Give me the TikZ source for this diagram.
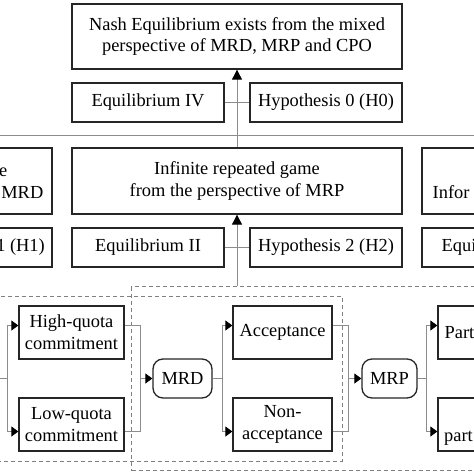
\documentclass[tikz,border=0pt]{standalone}
\usepackage{fontspec}
\setmainfont{Liberation Serif}
\usetikzlibrary{arrows.meta}
\begin{document}
\begin{tikzpicture}[x=1pt,y=-1pt,
  fnt/.style={font=\fontsize{18.4}{21.6}\selectfont},
  box/.style={draw=black!85, line width=1.3pt, rectangle, inner sep=0pt, align=center, fnt},
  rbox/.style={box, rounded corners=10pt},
  txt/.style={inner sep=0pt, fnt},
  conn/.style={draw=black!45, line width=0.9pt},
  dbox/.style={draw=black!50, line width=0.9pt, dash pattern=on 4pt off 3pt, inner sep=0pt},
  arr/.style={conn, -{Triangle[length=7pt,width=10pt,color=black]}},
  bigarr/.style={conn, -{Triangle[length=10pt,width=10pt,color=black]}},
]
\useasboundingbox (0,0) rectangle (474,474);
\clip (0,0) rectangle (474,474);
\fill[white] (0,0) rectangle (474,474);

% top level
\node[box, minimum width=330pt, minimum height=65pt] (top) at (237,36.5) {Nash Equilibrium exists from the mixed\\perspective of MRD, MRP and CPO};
\node[box, minimum width=152pt, minimum height=39pt] (eq4) at (148,102.5) {Equilibrium IV};
\node[box, minimum width=152pt, minimum height=39pt] (h0) at (326,102.5) {Hypothesis 0 (H0)};
\draw[conn] (eq4.east) -- (h0.west);

\coordinate (hl) at (0,135);
\coordinate (hr) at (474,135);
\draw[conn] (hl) -- (hr);

% middle level
\node[box, minimum width=330pt, minimum height=66pt] (mid) at (237,181) {Infinite repeated game\\from the perspective of MRP};
\node[box, minimum width=260pt, minimum height=66pt] (lmid) at (-78,181) {};
\node[box, minimum width=260pt, minimum height=66pt] (rmid) at (552,181) {};
\node[txt, anchor=base east] (lmid1) at (7.5,176.5) {e};
\node[txt, anchor=base east] (lmid2) at (43.5,198) {MRD};
\node[txt, anchor=base west] (rmid2) at (432.5,198) {Infor};
\draw[bigarr] (mid.north) -- (top.south);

\node[box, minimum width=152pt, minimum height=39pt] (eq2) at (148,247.5) {Equilibrium II};
\node[box, minimum width=152pt, minimum height=39pt] (h2) at (326,247.5) {Hypothesis 2 (H2)};
\node[box, minimum width=260pt, minimum height=39pt] (lrow) at (-78,247.5) {};
\node[box, minimum width=260pt, minimum height=39pt] (rrow) at (552,247.5) {};
\node[txt, anchor=base east] (lrowt) at (45,251.5) {1 (H1)};
\node[txt, anchor=base west] (rrowt) at (441.5,251.5) {Equi};
\draw[conn] (eq2.east) -- (h2.west);

% dashed groups
\node[dbox, minimum width=352pt, minimum height=165pt] (grpA) at (166,378.5) {};
\node[dbox, minimum width=468pt, minimum height=184pt] (grpB) at (365.7,378.7) {};
\draw[bigarr] (mid.south |- grpB.north) -- (mid.south);

% bottom level
\node[box, minimum width=105pt, minimum height=53pt] (hq) at (71.5,332.5) {High-quota\\commitment};
\node[box, minimum width=105pt, minimum height=53pt] (lq) at (71.5,424.5) {Low-quota\\commitment};
\node[rbox, minimum width=59pt, minimum height=39pt] (mrd) at (182.5,378.5) {MRD};
\node[box, minimum width=99pt, minimum height=53pt] (acc) at (282.5,332.5) {Acceptance};
\node[box, minimum width=99pt, minimum height=53pt] (nacc) at (282.5,424.5) {Non-\\acceptance};
\node[rbox, minimum width=55pt, minimum height=39pt] (mrp) at (389.5,378.5) {MRP};
\node[box, minimum width=122pt, minimum height=53pt] (p1) at (499,332.5) {};
\node[box, minimum width=122pt, minimum height=53pt] (p2) at (499,424.5) {};
\node[txt, anchor=base west] (p1t) at (444.5,338.3) {Part};
\node[txt, anchor=base west] (p2t) at (444,441.5) {part};

% connectors
\coordinate (lin) at (0,378.5);
\coordinate (s1) at (7.3,378.5);
\draw[conn] (lin) -- (s1);
\draw[arr] (s1) |- ([yshift=7pt]hq.west);
\draw[arr] (s1) |- ([yshift=-7pt]lq.west);

\coordinate (m1) at (140.7,378.5);
\draw[conn] ([yshift=7pt]hq.east) -| (m1);
\draw[conn] ([yshift=-7pt]lq.east) -| (m1);
\draw[arr] (m1) -- (mrd.west);

\coordinate (s2) at (222.3,378.5);
\draw[conn] (mrd.east) -- (s2);
\draw[arr] (s2) |- ([yshift=7pt]acc.west);
\draw[arr] (s2) |- ([yshift=-7pt]nacc.west);

\coordinate (m2) at (348.3,378.5);
\draw[conn] ([yshift=7pt]acc.east) -| (m2);
\draw[conn] ([yshift=-7pt]nacc.east) -| (m2);
\draw[arr] (m2) -- (mrp.west);

\coordinate (s3) at (426.7,378.5);
\draw[conn] (mrp.east) -- (s3);
\draw[arr] (s3) |- ([yshift=7pt]p1.west);
\draw[arr] (s3) |- ([yshift=-7pt]p2.west);
\end{tikzpicture}
\end{document}
